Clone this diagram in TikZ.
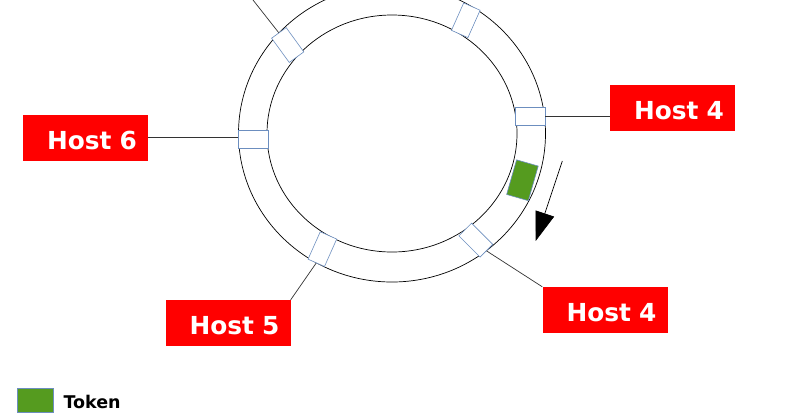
\documentclass[tikz,border=0pt]{standalone}
\usepackage{fontspec}
\setmainfont{DejaVu Sans}
\usepackage{tikz}
\usetikzlibrary{arrows.meta,positioning}
\definecolor{portblue}{HTML}{6C8EBF}
\definecolor{tokengreen}{HTML}{559B1F}
\definecolor{linegray}{HTML}{333333}

\tikzset{
  host/.style={fill=red, text=white, font=\fontsize{24.8bp}{29bp}\selectfont\bfseries,
    minimum height=46bp, text width=103bp, text height=23bp, text depth=0pt,
    align=right, inner xsep=11bp, inner ysep=0pt},
  port/.style={draw=portblue, fill=white, line width=0.6bp, inner sep=0pt,
    minimum width=30bp, minimum height=18bp},
  token/.style={draw=portblue, fill=tokengreen, line width=0.6bp, inner sep=0pt},
  wire/.style={draw=linegray, line width=0.7bp}
}

\begin{document}
\begin{tikzpicture}[x=1bp,y=-1bp]
\useasboundingbox (0,0) rectangle (794,417);

% ring
\coordinate (ring) at (392,133.5);
\draw[line width=0.7bp] (ring) ellipse [x radius=153.5bp, y radius=148.5bp];
\draw[line width=0.7bp] (ring) ellipse [x radius=125bp, y radius=118.5bp];

% ports on the ring
\node[port] (p6) at ([shift={(182.7:139.25bp and 133.5bp)}]ring) {};
\node[port, rotate=126] (p7) at ([shift={(138.5:139.25bp and 133.5bp)}]ring) {};
\node[port, rotate=66] (p3) at ([shift={(58:139.25bp and 133.5bp)}]ring) {};
\node[port] (p4) at ([shift={(7.5:139.25bp and 133.5bp)}]ring) {};
\node[port, rotate=-45] (p4b) at ([shift={(-53:139.25bp and 133.5bp)}]ring) {};
\node[port, rotate=66] (p5) at ([shift={(240:139.25bp and 133.5bp)}]ring) {};

% token
\node[token, minimum width=22.5bp, minimum height=36bp, rotate=-16] (tok) at ([shift={(-20.5:139.25bp and 133.5bp)}]ring) {};

% hosts
\node[host] (h6) at (85.5,137.5) {Host 6};
\node[host] (h4) at (672.5,108) {Host 4};
\node[host] (h4b) at (605,310) {Host 4};
\node[host] (h5) at (228,323) {Host 5};
\coordinate (h7) at (253,0);

% connectors
\draw[wire] (h6.east) -- (h6.east -| p6.west);
\draw[wire] (p4.east) -- (p4.east -| h4.west);
\draw[wire] (h4b.north west) -- (p4b.east);
\draw[wire] (h5.north east) -- (p5.west);
\draw[wire] (p7.east) -- (h7);

% direction of the token
\coordinate (flowa) at (562.3,161);
\coordinate (flowb) at (535.7,241);
\draw[line width=0.7bp, -{Triangle[length=29bp,width=19.5bp]}] (flowa) -- (flowb);

% legend
\node[token, minimum width=36bp, minimum height=24bp] (legtok) at (35,400) {};
\node[right=10bp of legtok, inner sep=0pt, yshift=-2bp, font=\fontsize{17.5bp}{20bp}\selectfont\bfseries] (legtxt) {Token};
\end{tikzpicture}
\end{document}
